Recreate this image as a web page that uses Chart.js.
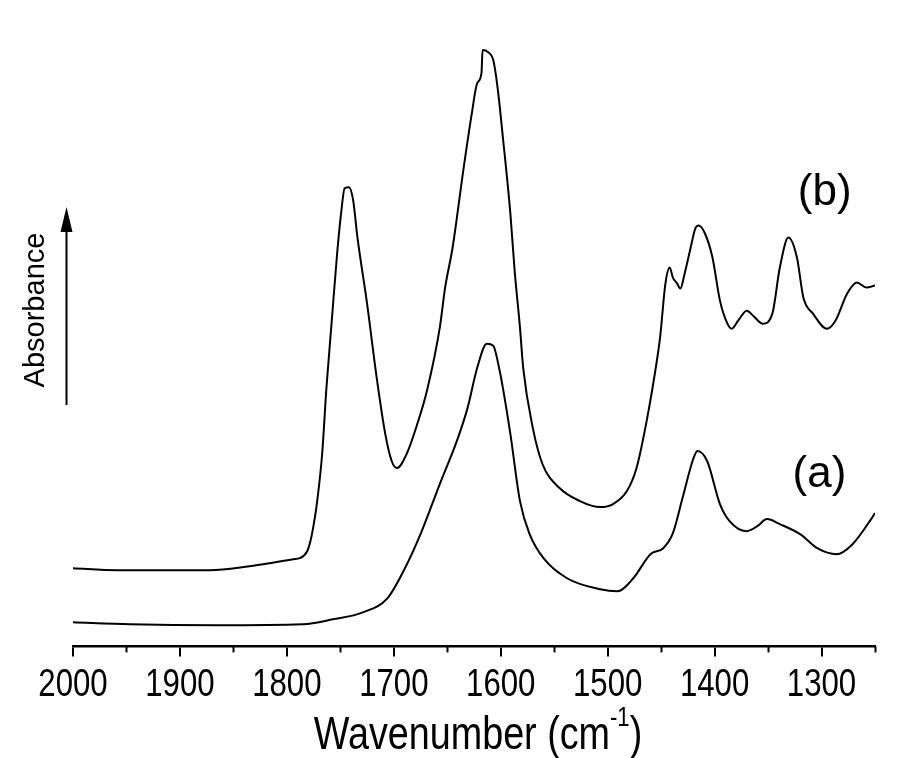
<!DOCTYPE html>
<html><head><meta charset="utf-8">
<script src="https://cdn.jsdelivr.net/npm/chart.js@4.4.1/dist/chart.umd.min.js"></script>
<style>html,body{margin:0;padding:0;background:#fff;}#wrap{width:911px;height:758px;}</style>
</head><body><div id="wrap"><canvas id="c" width="911" height="758"></canvas></div>
<script>
// Wavenumbers (cm-1) and absorbance (arbitrary units)
const wavenumberB = [2000,1959,1919,1872,1835,1816,1794,1788,1781,1778,1776,1772,1767,1763,1758,1753,1749,1746,1742,1738,1734,1725,1716,1708,1702,1697,1688,1678,1669,1657,1652,1645,1635,1627,1622,1618,1617,1612,1607,1603,1598,1591,1587,1582,1579,1570,1561,1545,1526,1507,1495,1482,1473,1463,1454,1451,1446,1442,1439,1435,1432,1428,1423,1418,1415,1409,1402,1395,1388,1384,1378,1370,1364,1355,1346,1339,1331,1323,1317,1308,1295,1287,1276,1267,1258,1250];
const absorbanceB = [78,76,76,76,80,83,87,88,95,105,115,142,192,258,325,392,435,457,458,445,408,342,268,212,185,178,192,222,255,318,358,398,475,532,562,572,595,593,585,558,508,432,375,318,278,218,182,158,145,139,142,155,178,228,285,308,362,378,368,362,357,372,395,417,420,412,388,345,322,317,325,335,330,322,332,378,408,388,348,332,317,325,352,363,358,360];
const wavenumberA = [2000,1947,1865,1785,1757,1729,1706,1691,1675,1657,1641,1631,1622,1613,1607,1601,1598,1591,1582,1573,1560,1538,1507,1491,1476,1460,1448,1439,1430,1420,1416,1407,1395,1386,1370,1360,1351,1339,1320,1304,1286,1271,1253,1250];
const absorbanceA = [24,22,21,22,27,34,48,75,112,162,205,238,278,302,300,275,258,212,145,112,88,68,57,55,68,92,98,113,148,187,195,185,142,125,115,120,127,122,112,98,92,102,128,133];
const xTickValues = [2000,1900,1800,1700,1600,1500,1400,1300];
const seriesLabels = ['(a)','(b)'];
const axisTitle = 'Wavenumber (cm';
const axisTitleSup = '-1';
const yLabel = 'Absorbance';

const toPts = (xs, ys) => xs.map((x, i) => ({x: x, y: ys[i]}));
const REG = '"Liberation Sans",Arial,Helvetica,sans-serif';
const NARROW_SCALE = 0.82;

const decor = {
  id: 'decor',
  afterDraw(chart) {
    const ctx = chart.ctx, xs = chart.scales.x, ys = chart.scales.y, ca = chart.chartArea;
    ctx.save();
    ctx.strokeStyle = '#000'; ctx.fillStyle = '#000'; ctx.lineWidth = 2;
    // minor ticks
    xs.ticks.forEach(t => {
      if (!xTickValues.includes(t.value)) {
        const px = Math.round(xs.getPixelForValue(t.value)) + 0.5;
        ctx.beginPath(); ctx.moveTo(px, ca.bottom); ctx.lineTo(px, ca.bottom + 6); ctx.stroke();
      }
    });
    // condensed tick labels (narrow face emulated)
    ctx.font = '38px ' + REG;
    ctx.textAlign = 'center'; ctx.textBaseline = 'middle';
    xTickValues.forEach(v => {
      ctx.save();
      ctx.translate(xs.getPixelForValue(v), ca.bottom + 39);
      ctx.scale(NARROW_SCALE, 1);
      ctx.fillText(String(v), 0, 0);
      ctx.restore();
    });
    // axis title with superscript
    ctx.textBaseline = 'alphabetic'; ctx.textAlign = 'left';
    ctx.font = '46px ' + REG;
    const w1 = ctx.measureText(axisTitle).width;
    const w3 = ctx.measureText(')').width;
    ctx.font = '27px ' + REG;
    const w2 = ctx.measureText(axisTitleSup).width;
    const total = w1 + w2 + w3;
    const cx = (ca.left + ca.right) / 2 + 4;
    ctx.save();
    ctx.translate(cx, 749);
    ctx.scale(NARROW_SCALE, 1);
    const x0 = -total / 2;
    ctx.font = '46px ' + REG;
    ctx.fillText(axisTitle, x0, 0);
    ctx.font = '27px ' + REG;
    ctx.fillText(axisTitleSup, x0 + w1, -23);
    ctx.font = '46px ' + REG;
    ctx.fillText(')', x0 + w1 + w2, 0);
    ctx.restore();
    // series labels
    ctx.font = '44px ' + REG;
    ctx.textAlign = 'center'; ctx.textBaseline = 'middle';
    ctx.fillText(seriesLabels[1], xs.getPixelForValue(1297), ys.getPixelForValue(453));
    ctx.fillText(seriesLabels[0], xs.getPixelForValue(1302), ys.getPixelForValue(171));
    // absorbance arrow
    const ax = ca.left - 6.5;
    ctx.lineWidth = 2;
    ctx.beginPath(); ctx.moveTo(ax, 405); ctx.lineTo(ax, 226); ctx.stroke();
    ctx.beginPath(); ctx.moveTo(ax, 207); ctx.lineTo(ax - 6, 232); ctx.lineTo(ax + 6, 232); ctx.closePath(); ctx.fill();
    ctx.save();
    ctx.translate(36, 310); ctx.rotate(-Math.PI / 2);
    ctx.font = '29px ' + REG; ctx.textAlign = 'center'; ctx.textBaseline = 'middle';
    ctx.fillText(yLabel, 0, 0);
    ctx.restore();
    ctx.restore();
  }
};

new Chart(document.getElementById('c'), {
  type: 'line',
  data: {
    datasets: [
      {label: seriesLabels[1], data: toPts(wavenumberB, absorbanceB), borderColor: '#000', borderWidth: 2, pointRadius: 0, cubicInterpolationMode: 'monotone', fill: false},
      {label: seriesLabels[0], data: toPts(wavenumberA, absorbanceA), borderColor: '#000', borderWidth: 2, pointRadius: 0, cubicInterpolationMode: 'monotone', fill: false}
    ]
  },
  options: {
    responsive: false, animation: false,
    layout: {padding: {left: 73, right: 36, top: 25, bottom: 48}},
    plugins: {legend: {display: false}, tooltip: {enabled: false}},
    scales: {
      x: {
        type: 'linear', reverse: true, min: 1250, max: 2000,
        border: {display: true, color: '#000', width: 2.5},
        grid: {drawOnChartArea: false, drawTicks: true, tickLength: 10, lineWidth: 2,
               color: c => xTickValues.includes(c.tick && c.tick.value) ? '#000' : 'rgba(0,0,0,0)'},
        ticks: {stepSize: 50, autoSkip: false, maxRotation: 0, padding: 4, color: 'rgba(0,0,0,0)',
                font: {family: REG, size: 38},
                callback: () => ''}
      },
      y: {type: 'linear', display: false, min: 0, max: 620}
    }
  },
  plugins: [decor]
});
</script></body></html>
